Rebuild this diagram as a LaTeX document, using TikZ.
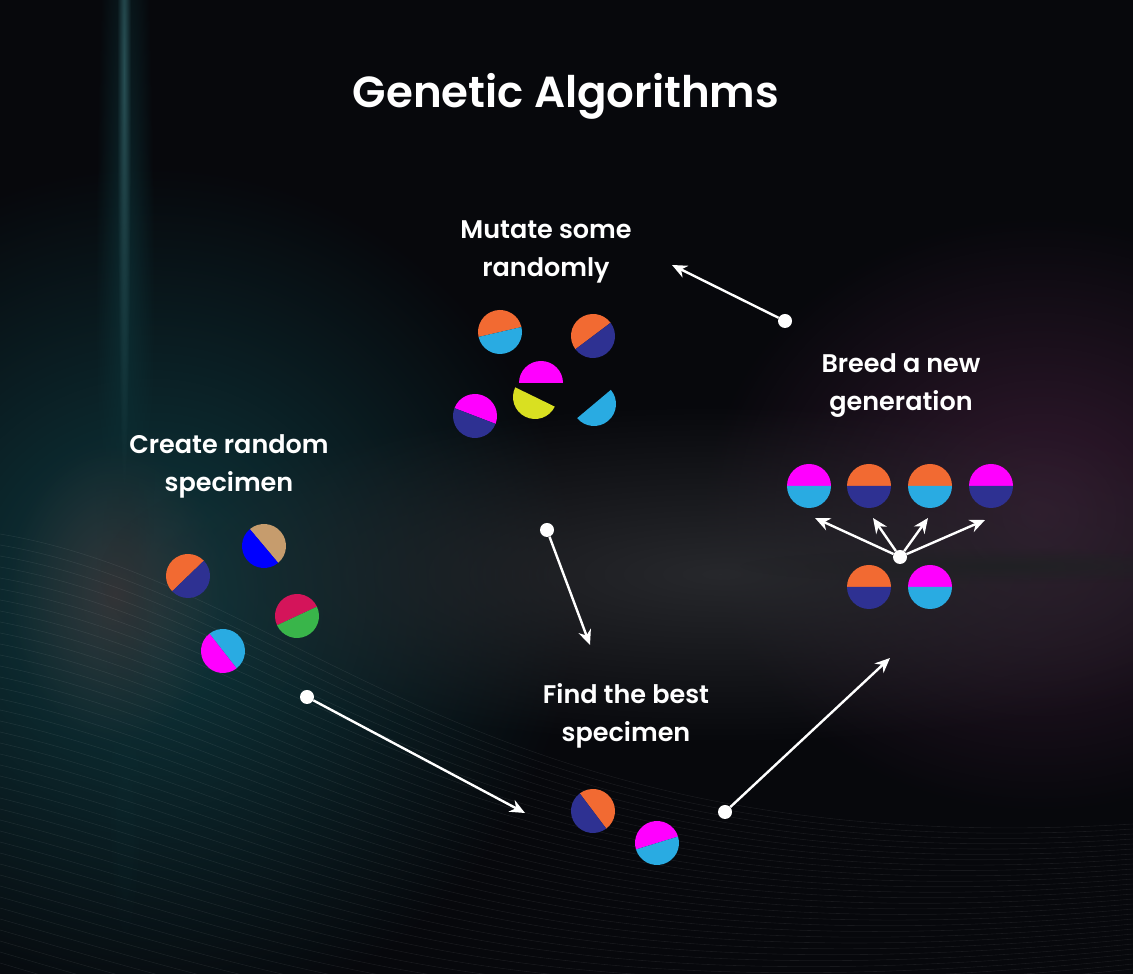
\documentclass[tikz,border=0pt]{standalone}
\usepackage{fontspec}
\setmainfont{Poppins SemiBold}
\usetikzlibrary{arrows.meta, positioning, fadings}

\definecolor{bgcol}{HTML}{07080C}
\definecolor{gorange}{HTML}{F26A32}
\definecolor{glight}{HTML}{29ABE2}
\definecolor{gdark}{HTML}{2E3192}
\definecolor{gmagenta}{HTML}{FF00FF}
\definecolor{gtan}{HTML}{C69C6D}
\definecolor{gblue}{HTML}{0000FF}
\definecolor{gcrimson}{HTML}{D4145A}
\definecolor{ggreen}{HTML}{39B54A}
\definecolor{gyellow}{HTML}{D9E021}
\definecolor{tealglow}{HTML}{0F3A40}
\definecolor{purpleglow}{HTML}{341A30}

\tikzfading[name=glow, inner color=transparent!0, outer color=transparent!100]

\begin{document}
\begin{tikzpicture}[x=1pt, y=1pt,
	every node/.style={text=white, align=center},
	stagetext/.style={font=\fontsize{25.5}{38}\selectfont},
	dot/.style={circle, fill=white, inner sep=0pt, minimum size=14pt},
	link/.style={white, line width=2.4pt, -{Stealth[length=15pt, width=13pt]}},
	pics/gene/.style 2 args={code={
		\fill[#1] (0:22pt) arc[start angle=0, end angle=180, radius=22pt] -- cycle;
		\fill[#2] (180:22pt) arc[start angle=180, end angle=360, radius=22pt] -- cycle;}},
	pics/half/.style={code={
		\fill[#1] (0:22pt) arc[start angle=0, end angle=180, radius=22pt] -- cycle;}}]
	\useasboundingbox (0,0) rectangle (1133,974);
	\clip (0,0) rectangle (1133,974);
	% background
	\fill[bgcol] (0,0) rectangle (1133,974);
	\fill[tealglow, path fading=glow, fit fading=true] (150,380) ellipse (430 and 430);
	\fill[tealglow!70!bgcol, path fading=glow, fit fading=true] (125,620) ellipse (30 and 600);
	\fill[tealglow!90!white, path fading=glow, fit fading=true] (124,900) ellipse (7 and 420);
	\fill[white!18!bgcol, path fading=glow, fit fading=true] (115,380) ellipse (110 and 150);
	\fill[purpleglow, path fading=glow, fit fading=true] (1040,460) ellipse (340 and 300);
	\fill[white!13!bgcol, path fading=glow, fit fading=true] (720,400) ellipse (620 and 170);
	\fill[white!10!bgcol, path fading=glow, fit fading=true] (1000,408) ellipse (260 and 18);
	\foreach \i in {0,...,44}
		\draw[white, opacity=0.07, line width=0.6pt] (0,{440-\i*11}) .. controls (300,{390-\i*12}) and (480,{110-\i*6}) .. (1133,{150-\i*5});
	% title and stages
	\node[font=\fontsize{43.5}{50}\selectfont] (title) at (566,878) {Genetic Algorithms};
	\node[stagetext] (mutate) at (546,722) {Mutate some\\randomly};
	\node[stagetext] (breed) at (901,588) {Breed a new\\generation};
	\node[stagetext] (create) at (229,508) {Create random\\specimen};
	\node[stagetext] (best) at (626,258) {Find the best\\specimen};
	% create random specimen
	\pic[rotate=-50] at (264,428) {gene={gtan}{gblue}};
	\pic[rotate=44] at (188,398) {gene={gorange}{gdark}};
	\pic[rotate=25] at (297,358) {gene={gcrimson}{ggreen}};
	\pic[rotate=-52] at (223,323) {gene={glight}{gmagenta}};
	% mutate some randomly
	\pic[rotate=13] at (500,642) {gene={gorange}{glight}};
	\pic[rotate=37] at (593,638) {gene={gorange}{gdark}};
	\pic at (541,591) {half=gmagenta};
	\pic[rotate=154] at (535,577) {half=gyellow};
	\pic[rotate=220] at (594,570) {half=glight};
	\pic[rotate=-21] at (475,558) {gene={gmagenta}{gdark}};
	% breed a new generation
	\pic at (809,488) {gene={gmagenta}{glight}};
	\pic at (869,488) {gene={gorange}{gdark}};
	\pic at (930,488) {gene={gorange}{glight}};
	\pic at (991,488) {gene={gmagenta}{gdark}};
	\pic at (869,387) {gene={gorange}{gdark}};
	\pic at (930,387) {gene={gmagenta}{glight}};
	% find the best specimen
	\pic[rotate=-53] at (593,163) {gene={gorange}{gdark}};
	\pic[rotate=17] at (657,131) {gene={gmagenta}{glight}};
	% connectors
	\node[dot] (mutdot) at (785,653) {};
	\coordinate (muttip) at (672,709);
	\node[dot] (middot) at (547,444) {};
	\coordinate (midtip) at (590,329);
	\node[dot] (createdot) at (307,277) {};
	\coordinate (createtip) at (525,161);
	\node[dot] (bestdot) at (725,162) {};
	\coordinate (besttip) at (890,316);
	\node[dot] (hub) at (900,417) {};
	\coordinate (kid1) at (815,456);
	\coordinate (kid2) at (873,456);
	\coordinate (kid3) at (928,456);
	\coordinate (kid4) at (985,454);
	\draw[link] (mutdot) -- (muttip);
	\draw[link] (middot) -- (midtip);
	\draw[link] (createdot) -- (createtip);
	\draw[link] (bestdot) -- (besttip);
	\foreach \k in {kid1,kid2,kid3,kid4}
		\draw[link] (hub) -- (\k);
\end{tikzpicture}
\end{document}
